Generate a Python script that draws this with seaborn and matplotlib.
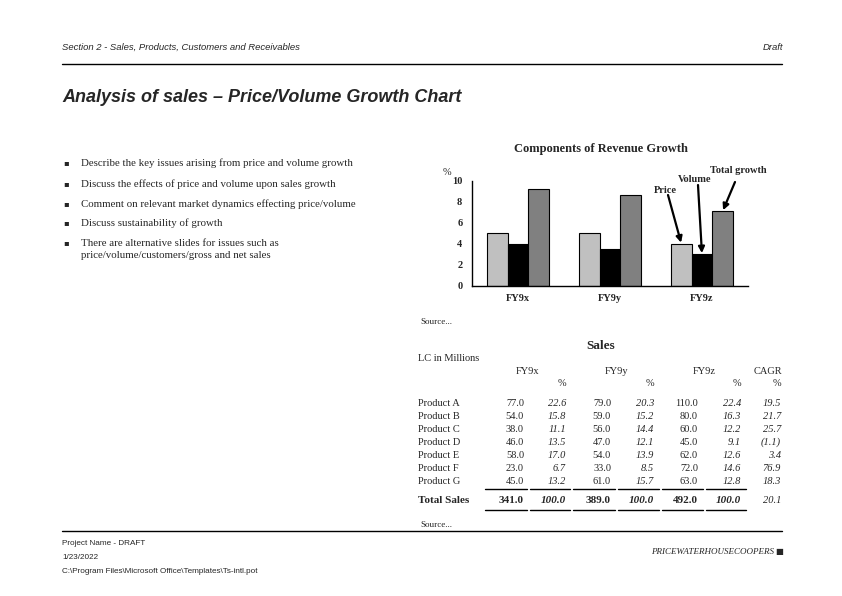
import pandas as pd
import matplotlib.pyplot as plt
from matplotlib.lines import Line2D
import seaborn as sns

# chart data
years = ['FY9x', 'FY9y', 'FY9z']
components = ['Price', 'Volume', 'Total growth']
price = [5.0, 5.0, 4.0]
volume = [4.0, 3.5, 3.0]
total_growth = [9.2, 8.7, 7.1]
bar_colors = ['#c0c0c0', '#000000', '#808080']

# table data
products = ['Product A', 'Product B', 'Product C', 'Product D', 'Product E', 'Product F', 'Product G']
sales_9x = [77.0, 54.0, 38.0, 46.0, 58.0, 23.0, 45.0]
pct_9x = [22.6, 15.8, 11.1, 13.5, 17.0, 6.7, 13.2]
sales_9y = [79.0, 59.0, 56.0, 47.0, 54.0, 33.0, 61.0]
pct_9y = [20.3, 15.2, 14.4, 12.1, 13.9, 8.5, 15.7]
sales_9z = [110.0, 80.0, 60.0, 45.0, 62.0, 72.0, 63.0]
pct_9z = [22.4, 16.3, 12.2, 9.1, 12.6, 14.6, 12.8]
cagr = [19.5, 21.7, 25.7, -1.1, 3.4, 76.9, 18.3]
total_row = [341.0, 100.0, 389.0, 100.0, 492.0, 100.0]
total_cagr = 20.1

bullets = [
    'Describe the key issues arising from price and volume growth',
    'Discuss the effects of price and volume upon sales growth',
    'Comment on relevant market dynamics effecting price/volume',
    'Discuss sustainability of growth',
    'There are alternative slides for issues such as\nprice/volume/customers/gross and net sales',
]

sns.set_style('white')
plt.rcParams['font.family'] = ['Liberation Serif', 'DejaVu Serif']

W, H = 842, 596
fig = plt.figure(figsize=(W / 100, H / 100), dpi=100)


def fx(x):
    return x / W


def fy(y):
    return 1 - y / H


def ftext(x, y, s, **kw):
    # y is the visual middle of the text; place the baseline a bit lower
    kw.setdefault('va', 'baseline')
    off = 0.35 * kw.get('fontsize', 7) * 100 / 72 if kw['va'] == 'baseline' else 0
    fig.text(fx(x), fy(round(y + off)), s, **kw)


def hline(x0, x1, y, lw=1.0):
    fig.add_artist(Line2D([fx(x0), fx(x1)], [fy(y), fy(y)], color='black', lw=lw,
                          transform=fig.transFigure))


sans = ['Liberation Sans', 'DejaVu Sans']

# header
ftext(62, 47, 'Section 2 - Sales, Products, Customers and Receivables', family=sans,
      style='italic', fontsize=6.8)
ftext(783, 47, 'Draft', family=sans, style='italic', fontsize=6.8, ha='right')
hline(62, 782, 64, lw=1.0)
ftext(62, 96, 'Analysis of sales \u2013 Price/Volume Growth Chart', family=sans,
      style='italic', weight='bold', fontsize=13)

# bullets
bullet_y = [162, 183, 203, 222, 242]
for y, b in zip(bullet_y, bullets):
    ftext(63, y, '\u25aa', family=['DejaVu Sans'], fontsize=6)
    for k, line in enumerate(b.split('\n')):
        ftext(81, y + 12 * k, line, fontsize=7.8)

# bar chart
df = pd.DataFrame({
    'year': years * 3,
    'component': [components[0]] * 3 + [components[1]] * 3 + [components[2]] * 3,
    'value': price + volume + total_growth,
})

ftext(601, 148, 'Components of Revenue Growth', fontsize=9, weight='bold', ha='center')
ax = fig.add_axes([fx(472), fy(286), (748 - 472) / W, (286 - 181) / H])
group_width = 0.67
sns.barplot(data=df, x='year', y='value', hue='component', hue_order=components,
            order=years, palette=bar_colors, saturation=1, edgecolor='black',
            linewidth=0.8, width=group_width, gap=0, legend=False, ax=ax)
ax.set_xlim(-0.5, 2.5)
ax.set_ylim(0, 10)
ax.set_yticks([0, 2, 4, 6, 8, 10])
ax.set_xlabel('')
ax.set_ylabel('')
for s in ['top', 'right']:
    ax.spines[s].set_visible(False)
for s in ['left', 'bottom']:
    ax.spines[s].set_linewidth(1.0)
    ax.spines[s].set_color('black')
ax.tick_params(axis='y', direction='out', length=4, width=1, labelsize=7.5, pad=3)
ax.tick_params(axis='x', which='major', length=0, labelsize=7.5, pad=6)
ax.set_xticks([-0.5, 0.5, 1.5, 2.5], minor=True)
ax.tick_params(axis='x', which='minor', direction='out', length=4, width=1)
for lab in ax.get_xticklabels() + ax.get_yticklabels():
    lab.set_fontweight('bold')
ftext(443, 171, '%', fontsize=7.5)

bw = group_width / 3
last = len(years) - 1
annots = [
    ('Price', (last - bw, price[last]), (665, 189), (668, 195)),
    ('Volume', (last, volume[last]), (695, 178), (698, 185)),
    ('Total growth', (last + bw, total_growth[last]), (738, 169), (735, 182)),
]
for label, xy, txt_pos, arr_start in annots:
    ftext(txt_pos[0], txt_pos[1], label, fontsize=7.5, weight='bold', ha='center')
    ax.annotate('', xy=xy, xytext=(arr_start[0], H - arr_start[1]),
                textcoords='figure pixels',
                arrowprops=dict(arrowstyle='-|>', color='black', lw=1.6,
                                mutation_scale=9, shrinkA=0, shrinkB=1))

ftext(420, 321, 'Source...', fontsize=6.5)

# sales table
fs = 7.5
ftext(601, 344, 'Sales', fontsize=9.5, weight='bold', ha='center')
ftext(418, 357, 'LC in Millions', fontsize=fs)
col_right = [524, 566, 611, 654, 698, 741, 781]
ftext(528, 370, 'FY9x', fontsize=fs, ha='center')
ftext(617, 370, 'FY9y', fontsize=fs, ha='center')
ftext(704, 370, 'FY9z', fontsize=fs, ha='center')
ftext(col_right[6] + 1, 370, 'CAGR', fontsize=fs, ha='right')
for c in [1, 3, 5, 6]:
    ftext(col_right[c], 382, '%', fontsize=fs, ha='right')


def fmt(v):
    return f'({abs(v):.1f})' if v < 0 else f'{v:.1f}'


columns = [sales_9x, pct_9x, sales_9y, pct_9y, sales_9z, pct_9z, cagr]
row_y = [402, 415, 428, 441, 454, 467, 480]
for i, (prod, y) in enumerate(zip(products, row_y)):
    ftext(418, y, prod, fontsize=fs)
    for c, col in enumerate(columns):
        italic = c in (1, 3, 5, 6)
        ftext(col_right[c], y, fmt(col[i]), fontsize=fs, ha='right',
              style='italic' if italic else 'normal')

seg = [(485, 527), (530, 570), (573, 615), (618, 659), (662, 703), (706, 746)]
for x0, x1 in seg:
    hline(x0, x1, 489, lw=1.0)
    hline(x0, x1, 510, lw=1.0)
ftext(418, 499, 'Total Sales', fontsize=8, weight='bold')
for c, v in enumerate(total_row):
    ftext(col_right[c], 499, fmt(v), fontsize=8, ha='right', weight='bold',
          style='italic' if c % 2 else 'normal')
ftext(col_right[6], 499, fmt(total_cagr), fontsize=fs, ha='right', style='italic')
ftext(420, 524, 'Source...', fontsize=6.5)

# footer
hline(62, 782, 531, lw=1.0)
ftext(62, 542, 'Project Name - DRAFT', family=sans, fontsize=5.9)
ftext(62, 556, '1/23/2022', family=sans, fontsize=5.9)
ftext(62, 570, 'C:\\Program Files\\Microsoft Office\\Templates\\Ts-intl.pot', family=sans,
      fontsize=5.9)
ftext(774, 551, 'PRICEWATERHOUSECOOPERS', fontsize=6.5, style='italic', ha='right')
ftext(783, 551, '\u25a0', family=['DejaVu Sans'], fontsize=6, ha='right')

fig.savefig('out.png', dpi=100)
